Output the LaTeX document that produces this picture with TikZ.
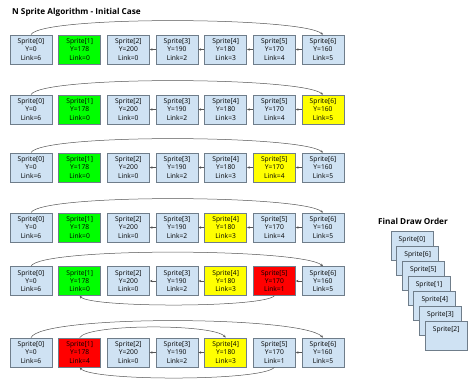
\documentclass[tikz,border=0pt]{standalone}
\usepackage{fontspec}
\setmainfont{Open Sans}
\usetikzlibrary{arrows.meta}
\definecolor{boxblue}{HTML}{CFE2F3}
\definecolor{boxedge}{HTML}{6F7D8A}
\definecolor{sgreen}{HTML}{00FF00}
\definecolor{syellow}{HTML}{FFFF00}
\definecolor{sred}{HTML}{FF0000}
\definecolor{lnkcol}{HTML}{555555}
\tikzset{
  box/.style={draw=boxedge, line width=0.75pt, fill=boxblue, minimum width=42pt, minimum height=29pt,
    inner sep=0pt, align=center, font=\fontsize{6.7}{8.4}\selectfont},
  stk/.style={draw=boxedge, line width=0.75pt, fill=boxblue, minimum width=42pt, inner xsep=0pt,
    inner ysep=2pt, text height=8.5pt, text depth=16.5pt, font=\fontsize{6.7}{8.4}\selectfont},
  lnk/.style={draw=lnkcol, line width=0.5pt, -{Stealth[length=2.8pt,width=2.4pt]}},
  ttl/.style={font=\bfseries\fontsize{8.2}{9}\selectfont, inner sep=0pt}
}
\begin{document}
\begin{tikzpicture}[x=1pt,y=1pt]
\useasboundingbox (0,0) rectangle (474,-382);
\node[ttl, anchor=west] (title) at (12,-12) {N Sprite Algorithm - Initial Case};
% row 1
\foreach \c/\yv/\lk/\fc in {0/0/6/boxblue,1/178/0/sgreen,2/200/0/boxblue,3/190/2/boxblue,4/180/3/boxblue,5/170/4/boxblue,6/160/5/boxblue}
  \node[box, fill=\fc] (a\c) at ({31+48.67*\c},-49.5) {Sprite[\c]\\Y=\yv\\Link=\lk};
% row 2
\foreach \c/\yv/\lk/\fc in {0/0/6/boxblue,1/178/0/sgreen,2/200/0/boxblue,3/190/2/boxblue,4/180/3/boxblue,5/170/4/boxblue,6/160/5/syellow}
  \node[box, fill=\fc] (b\c) at ({31+48.67*\c},-109.5) {Sprite[\c]\\Y=\yv\\Link=\lk};
% row 3
\foreach \c/\yv/\lk/\fc in {0/0/6/boxblue,1/178/0/sgreen,2/200/0/boxblue,3/190/2/boxblue,4/180/3/boxblue,5/170/4/syellow,6/160/5/boxblue}
  \node[box, fill=\fc] (c\c) at ({31+48.67*\c},-167.5) {Sprite[\c]\\Y=\yv\\Link=\lk};
% row 4
\foreach \c/\yv/\lk/\fc in {0/0/6/boxblue,1/178/0/sgreen,2/200/0/boxblue,3/190/2/boxblue,4/180/3/syellow,5/170/4/boxblue,6/160/5/boxblue}
  \node[box, fill=\fc] (d\c) at ({31+48.67*\c},-227.5) {Sprite[\c]\\Y=\yv\\Link=\lk};
% row 5
\foreach \c/\yv/\lk/\fc in {0/0/6/boxblue,1/178/0/sgreen,2/200/0/boxblue,3/190/2/boxblue,4/180/3/syellow,5/170/1/sred,6/160/5/boxblue}
  \node[box, fill=\fc] (e\c) at ({31+48.67*\c},-281) {Sprite[\c]\\Y=\yv\\Link=\lk};
% row 6
\foreach \c/\yv/\lk/\fc in {0/0/6/boxblue,1/178/4/sred,2/200/0/boxblue,3/190/2/boxblue,4/180/3/syellow,5/170/1/boxblue,6/160/5/boxblue}
  \node[box, fill=\fc] (f\c) at ({31+48.67*\c},-352.5) {Sprite[\c]\\Y=\yv\\Link=\lk};
% links
\foreach \r in {a,b,c,d}{
  \draw[lnk] (\r3.west) -- (\r2.east);
  \draw[lnk] (\r4.west) -- (\r3.east);
  \draw[lnk] (\r5.west) -- (\r4.east);
  \draw[lnk] (\r6.west) -- (\r5.east);
  \draw[lnk] (\r0.north) .. controls +(10,19) and +(-22,18) .. (\r6.north);
}
\foreach \r in {e,f}{
  \draw[lnk] (\r3.west) -- (\r2.east);
  \draw[lnk] (\r4.west) -- (\r3.east);
  \draw[lnk] (\r6.west) -- (\r5.east);
}
\draw[lnk] (e0.north) .. controls +(10,19) and +(-22,18) .. (e6.north);
\draw[lnk] (e5.south) .. controls +(-12,-12) and +(12,-12) .. (e1.south);
\draw[lnk] (f0.north) .. controls +(10,23) and +(-22,22) .. (f6.north);
\draw[lnk] (f1.north) .. controls +(8,14) and +(-12,14) .. (f4.north);
\draw[lnk] (f5.south) .. controls +(-12,-14) and +(12,-14) .. (f1.south);
% final draw order
\node[ttl] (fdo) at (413,-221) {Final Draw Order};
\foreach \k/\s in {0/0,1/6,2/5,3/1,4/4,5/3,6/2}
  \node[stk] (s\k) at ({412+5.7*\k},{-245.5-15*\k}) {Sprite[\s]};
\end{tikzpicture}
\end{document}
